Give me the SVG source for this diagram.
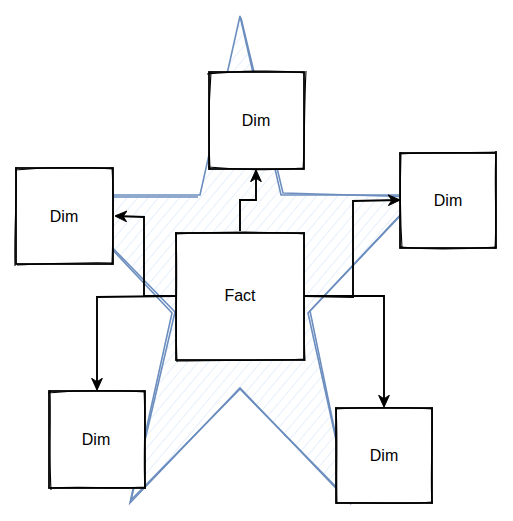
<svg xmlns="http://www.w3.org/2000/svg" width="513" height="521" viewBox="0 0 513 521">
  <defs>
    <pattern id="hatch" patternUnits="userSpaceOnUse" width="8" height="8" patternTransform="rotate(40)">
      <line x1="0" y1="0" x2="0" y2="8" stroke="#dceafb" stroke-width="1.4"/>
    </pattern>
    <marker id="arr" viewBox="0 0 10 10" refX="9" refY="5" markerWidth="12" markerHeight="12" orient="auto-start-reverse" markerUnits="userSpaceOnUse">
      <path d="M0,0.5 L10,5 L0,9.5 L3,5 Z" fill="#000" stroke="#000" stroke-width="0.8" stroke-linejoin="round"/>
    </marker>
  </defs>
  <style>
    .star { fill: none; stroke: #6c8ebf; stroke-width: 1.6; stroke-linejoin: miter; }
    .box { fill: #fff; stroke: #000; stroke-width: 1.8; }
    .sk { fill: none; stroke: #000; stroke-width: 1.1; }
    .lbl { font-family: "Liberation Sans", "DejaVu Sans", sans-serif; font-size: 16px; fill: #000; text-anchor: middle; dominant-baseline: central; }
    .conn { fill: none; stroke: #000; stroke-width: 1.9; }
  </style>

  <g id="star">
    <polygon points="240,16 281,195 419,195 308,313 350,503 240,388 130,503 172,313 61,195 200,195" fill="url(#hatch)" stroke="none"/>
    <polygon class="star" points="240,16 281,195 419,195 308,313 350,503 240,388 130,503 172,313 61,195 200,195"/>
    <polyline class="star" stroke-width="1.1" points="241,18 283,193 418,197 310,311 349,500 240,389 131,500 175,312 63,197 198,197"/>
  </g>

  <g id="connectors">
    <path class="conn" d="M240,231 L240,200 L256,200 L256,171" marker-end="url(#arr)"/>
    <path class="conn" d="M176,296 L144,296 L144,217 L116,216" marker-end="url(#arr)"/>
    <path class="conn" d="M176,296 L97,297 L97,389" marker-end="url(#arr)"/>
    <path class="conn" d="M304,296 L353,297 L353,201 L399,200" marker-end="url(#arr)"/>
    <path class="conn" d="M304,296 L384,296 L384,406" marker-end="url(#arr)"/>
  </g>

  <g id="dim-top">
    <rect class="box" x="209" y="72" width="95" height="97"/>
    <path class="sk" d="M207,74 C240,71 280,70 305,73 M306,71 C304,110 305,140 303,170 M303,168 C270,171 240,170 208,167 M210,170 C208,130 209,100 211,72"/>
    <text class="lbl" x="256" y="120">Dim</text>
  </g>
  <g id="dim-left">
    <rect class="box" x="16" y="168" width="97" height="96"/>
    <path class="sk" d="M15,170 C50,167 85,167 113,169 M112,167 C114,200 113,235 112,265 M113,263 C80,262 45,264 17,265 M15,266 C14,230 17,200 16,167"/>
    <text class="lbl" x="64" y="216">Dim</text>
  </g>
  <g id="dim-right">
    <rect class="box" x="400" y="153" width="96" height="95"/>
    <path class="sk" d="M399,154 C430,152 465,153 497,152 M496,151 C494,185 497,215 495,249 M497,247 C465,249 430,250 401,247 M402,248 C400,215 400,185 401,152"/>
    <text class="lbl" x="448" y="200">Dim</text>
  </g>
  <g id="fact">
    <rect class="box" x="176" y="233" width="128" height="127"/>
    <path class="sk" d="M175,234 C215,232 260,231 305,234 M304,232 C305,280 303,320 305,361 M305,359 C260,361 215,360 177,361 M177,362 C175,320 178,280 176,232"/>
    <text class="lbl" x="240" y="295">Fact</text>
  </g>
  <g id="dim-bottom-left">
    <rect class="box" x="49" y="391" width="96" height="97"/>
    <path class="sk" d="M48,393 C80,390 115,390 145,392 M144,390 C146,425 143,460 145,489 M145,487 C115,489 80,486 50,488 M51,490 C49,455 51,425 50,390"/>
    <text class="lbl" x="96" y="439">Dim</text>
  </g>
  <g id="dim-bottom-right">
    <rect class="box" x="336" y="408" width="96" height="95"/>
    <path class="sk" d="M335,409 C370,407 400,407 433,409 M432,407 C433,440 430,475 432,504 M433,502 C400,505 370,502 337,503 M337,504 C336,470 338,440 336,407"/>
    <text class="lbl" x="384" y="455">Dim</text>
  </g>
</svg>
